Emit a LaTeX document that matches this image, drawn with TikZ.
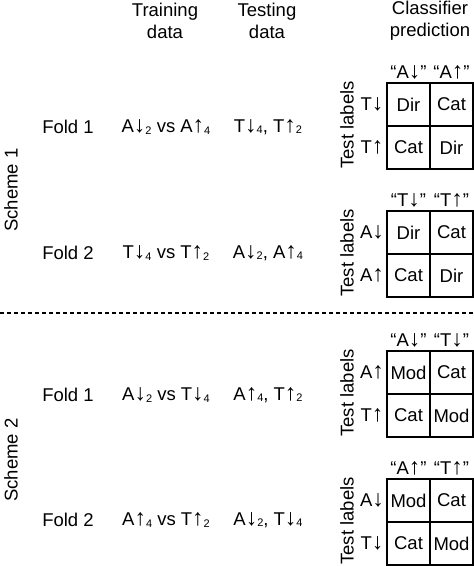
\documentclass[tikz,border=0pt]{standalone}
\usepackage{fontspec}
\setmainfont{Liberation Sans}
\newcommand{\dn}{{\fontsize{23}{20}\selectfont ↓}}
\newcommand{\up}{{\fontsize{23}{20}\selectfont ↑}}
\newcommand{\sbs}[1]{\raisebox{-1.5pt}{\fontsize{11}{12}\selectfont #1}}
\begin{document}
\begin{tikzpicture}[x=1pt,y=-1pt,
  txt/.style={font=\fontsize{18.5}{22}\selectfont, inner sep=0pt, anchor=center},
  hdr/.style={txt, align=center, font=\fontsize{18.5}{22}\selectfont},
  cell/.style={draw, line width=1.6pt, minimum width=43pt, minimum height=43pt, inner sep=0pt, font=\fontsize{18.5}{22}\selectfont},
  rot/.style={txt, rotate=90}]
\useasboundingbox (0,0) rectangle (474,566);
% headers
\node[hdr] (htrain) at (165,21) {Training\\data};
\node[hdr] (htest) at (267,21) {Testing\\data};
\node[hdr] (hclass) at (430,21) {Classifier\\prediction};
% scheme labels
\node[rot] (s1) at (11,190) {Scheme 1};
\node[rot] (s2) at (11,460) {Scheme 2};
% dashed separator
\coordinate (dl) at (0,313);
\coordinate (dr) at (474,313);
\draw[line width=1.6pt, dash pattern=on 4pt off 3pt] (dl) -- (dr);
% rows
\node[txt] (fa) at (68,127) {Fold 1};
\node[txt] (tra) at (166,127) {A\dn\sbs{2} vs A\up\sbs{4}};
\node[txt] (tea) at (268,127) {T\dn\sbs{4}, T\up\sbs{2}};
\node[txt] (fb) at (68,253) {Fold 2};
\node[txt] (trb) at (166,253) {T\dn\sbs{4} vs T\up\sbs{2}};
\node[txt] (teb) at (268,253) {A\dn\sbs{2}, A\up\sbs{4}};
\node[txt] (fc) at (68,395) {Fold 1};
\node[txt] (trc) at (166,395) {A\dn\sbs{2} vs T\dn\sbs{4}};
\node[txt] (tec) at (268,395) {A\up\sbs{4}, T\up\sbs{2}};
\node[txt] (fd) at (68,520) {Fold 2};
\node[txt] (trd) at (166,520) {A\up\sbs{4} vs T\up\sbs{2}};
\node[txt] (ted) at (268,520) {A\dn\sbs{2}, T\dn\sbs{4}};
% matrices
\newcommand{\confmat}[9]{%
  \node[cell] (#1aa) at (408.5,#2+21.5) {#6};
  \node[cell] (#1ab) at (451.5,#2+21.5) {#7};
  \node[cell] (#1ba) at (408.5,#2+64.5) {#8};
  \node[cell] (#1bb) at (451.5,#2+64.5) {#9};
  \node[txt] (#1c1) at (408.5,#2-11) {#3};
  \node[txt] (#1c2) at (451.5,#2-11) {#4};
  \node[txt] (#1r1) at (372,#2+21.5) {#5};
  \node[rot] (#1tl) at (347,#2+42) {Test labels};
}
\confmat{m}{83}{“A\dn”}{“A\up”}{T\dn}{Dir}{Cat}{Cat}{Dir}
\node[txt] (mr2) at (372,147.5) {T\up};
\confmat{n}{211}{“T\dn”}{“T\up”}{A\dn}{Dir}{Cat}{Cat}{Dir}
\node[txt] (nr2) at (372,275.5) {A\up};
\confmat{o}{351}{“A\dn”}{“T\dn”}{A\up}{Mod}{Cat}{Cat}{Mod}
\node[txt] (or2) at (372,415.5) {T\up};
\confmat{p}{479}{“A\up”}{“T\up”}{A\dn}{Mod}{Cat}{Cat}{Mod}
\node[txt] (pr2) at (372,543.5) {T\dn};
\end{tikzpicture}
\end{document}
